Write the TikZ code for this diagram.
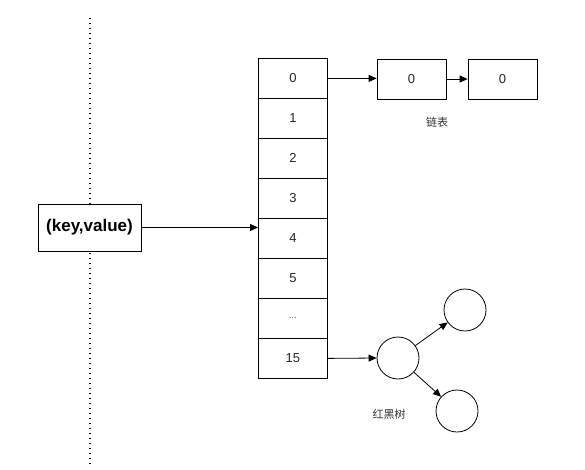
\documentclass[tikz,border=0pt]{standalone}
\usepackage{fontspec}
\setmainfont{Liberation Sans}
\newfontfamily\cjk{Noto Sans CJK SC}
\usetikzlibrary{arrows.meta}
\begin{document}
\begin{tikzpicture}[x=1pt,y=-1pt,
  cell/.style={draw,line width=0.8pt,minimum width=69pt,minimum height=40pt,inner sep=0pt,font=\fontsize{13}{15}\selectfont,text=black!85,anchor=north west},
  lbox/.style={draw,line width=0.8pt,minimum width=69pt,minimum height=40pt,inner sep=0pt,font=\fontsize{13}{15}\selectfont,text=black!85},
  tnode/.style={draw,circle,line width=0.8pt,minimum size=42pt,inner sep=0pt},
  arr/.style={-{Triangle[length=8pt,width=7pt]},line width=0.8pt},
  lbl/.style={font=\cjk\fontsize{11}{13}\selectfont,text=black!80}]
\useasboundingbox (0,0) rectangle (585,470);
\fill[white] (0,0) rectangle (585,470);
\coordinate (dt) at (90,18);
\coordinate (db) at (90,466);
\draw[line width=1.3pt,dash pattern=on 1.3pt off 3.7pt] (dt) -- (db);
\node[draw,line width=0.8pt,minimum width=103pt,minimum height=47pt,inner sep=0pt,fill=white,font=\bfseries\fontsize{17}{20}\selectfont] (kv) at (89.5,227.5) {(key,value)};
\node[cell] (c0) at (258,58) {0};
\node[cell] (c1) at (258,98) {1};
\node[cell] (c2) at (258,138) {2};
\node[cell] (c3) at (258,178) {3};
\node[cell] (c4) at (258,218) {4};
\node[cell] (c5) at (258,258) {5};
\node[cell,font=\fontsize{9}{11}\selectfont,text=black!70] (c6) at (258,298) {...};
\node[cell] (c7) at (258,338) {15};
\node[lbox] (l1) at (411.5,79) {0};
\node[lbox] (l2) at (502.5,79) {0};
\node[lbl] (ll) at (437,122) {链表};
\node[tnode] (r) at (398,358) {};
\node[tnode] (t1) at (465,310) {};
\node[tnode] (t2) at (457,411) {};
\node[lbl] (rl) at (389,414) {红黑树};
\draw[arr] (kv.east) -- (kv.east -| c4.west);
\draw[arr] (c0.east) -- (c0.east -| l1.west);
\draw[arr] (l1.east) -- (l2.west);
\draw[arr] (c7.east) -- (r.west);
\draw[arr] (r) -- (t1);
\draw[arr] (r) -- (t2);
\end{tikzpicture}
\end{document}
